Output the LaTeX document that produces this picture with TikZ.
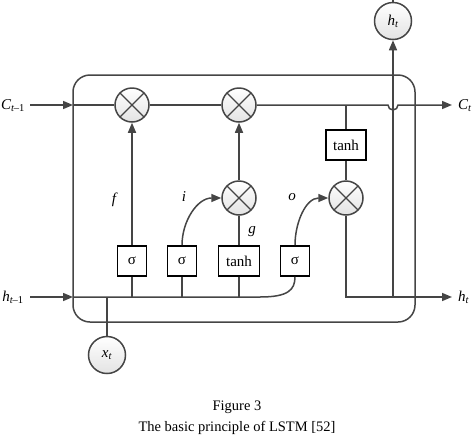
\documentclass[tikz,border=0pt]{standalone}
\usepackage{fontspec}
\setmainfont{Liberation Serif}
\usetikzlibrary{arrows.meta}
\definecolor{linecol}{HTML}{454545}
\begin{document}
\begin{tikzpicture}[x=1pt,y=-1pt,
  conn/.style={draw=linecol, line width=1.5pt},
  arr/.style={conn, -{Triangle[length=10pt,width=8pt]}},
  mult/.style={circle, draw=linecol, line width=1.5pt, minimum size=34pt, inner sep=0pt,
    top color=white, bottom color=gray!22,
    path picture={\draw[linecol,line width=1.4pt]
      (path picture bounding box.north west) -- (path picture bounding box.south east)
      (path picture bounding box.north east) -- (path picture bounding box.south west);}},
  vcirc/.style={circle, draw=linecol, line width=1.5pt, minimum size=37pt, inner sep=0pt,
    top color=white, bottom color=gray!22, font=\fontsize{15}{17}\selectfont\itshape},
  gatebox/.style={draw=black, line width=1.6pt, fill=white, minimum height=30pt, inner sep=2pt,
    font=\fontsize{15}{17}\selectfont},
  lbl/.style={font=\fontsize{15}{17}\selectfont\itshape, inner sep=1pt},
  captext/.style={font=\fontsize{14.5}{17}\selectfont, inner sep=0pt}]
\useasboundingbox (0,0) rectangle (474,437);
% cell box
\draw[conn, rounded corners=17pt] (73,75) rectangle (415,322);
% nodes
\node[mult] (m1) at (132,105) {};
\node[mult] (m2) at (239,105) {};
\node[mult] (mi) at (239,198) {};
\node[mult] (mo) at (346,198) {};
\node[gatebox, minimum width=40pt] (tc) at (346,145) {tanh};
\node[gatebox, minimum width=29pt] (s1) at (132,261) {σ};
\node[gatebox, minimum width=29pt] (s2) at (182,261) {σ};
\node[gatebox, minimum width=41pt] (tg) at (239,261) {tanh};
\node[gatebox, minimum width=29pt] (s3) at (295,261) {σ};
\node[vcirc] (ht) at (393,21) {h\textsubscript{t}};
\node[vcirc] (xt) at (107,355) {x\textsubscript{t}};
% coordinates
\coordinate (cin) at (30,105);
\coordinate (cl) at (73,105);
\coordinate (cout) at (452,105);
\coordinate (hin) at (30,297);
\coordinate (hl) at (73,297);
\coordinate (hout) at (452,297);
\coordinate (cb) at (346,105);
\coordinate (jmp) at (388,105);
\coordinate (hb1) at (132,297);
\coordinate (hb2) at (182,297);
\coordinate (hb3) at (239,297);
\coordinate (hb4) at (260,297);
\coordinate (hx) at (107,297);
\coordinate (ho) at (346,297);
\coordinate (hu) at (393,297);
\coordinate (htop) at (393,0);
% labels
\node[lbl] (lcin) at (13,106) {C\textsubscript{t\upshape–1}};
\node[lbl] (lhin) at (13,297) {h\textsubscript{t\upshape–1}};
\node[lbl, anchor=west] (lcout) at (457,106) {C\textsubscript{t}};
\node[lbl, anchor=west] (lhout) at (457,297) {h\textsubscript{t}};
\node[lbl] (lf) at (114,200) {f};
\node[lbl] (li) at (184,197) {i};
\node[lbl] (lo) at (292,197) {o};
\node[lbl] (lg) at (252,232) {g};
% cell state line
\draw[arr] (cin) -- (cl);
\draw[conn] (cl) -- (m1.west);
\draw[conn] (m1.east) -- (m2.west);
\draw[arr] (m2.east) -- (jmp) arc (180:0:5) -- (cout);
\draw[conn] (cb) -- (tc.north);
\draw[conn] (tc.south) -- (mo.north);
% hidden line
\draw[arr] (hin) -- (hl);
\draw[conn] (hl) -- (hb4) .. controls (288,297) and (295,290) .. (s3.south);
\draw[conn] (s1.south) -- (hb1);
\draw[conn] (s2.south) -- (hb2);
\draw[conn] (tg.south) -- (hb3);
\draw[conn] (xt.north) -- (hx);
% gates
\draw[arr] (s1.north) -- (m1.south);
\draw[arr] (s2.north) to[out=90,in=180] (mi.west);
\draw[conn] (tg.north) -- (mi.south);
\draw[arr] (mi.north) -- (m2.south);
\draw[arr] (s3.north) to[out=90,in=180] (mo.west);
% output
\draw[arr] (mo.south) -- (ho) -- (hout);
\draw[arr] (hu) -- (ht.south);
\draw[conn] (ht.north) -- (htop);
% caption
\node[captext] (c1) at (237,407) {Figure 3};
\node[captext] (c2) at (237,428) {The basic principle of LSTM [52]};
\end{tikzpicture}
\end{document}
